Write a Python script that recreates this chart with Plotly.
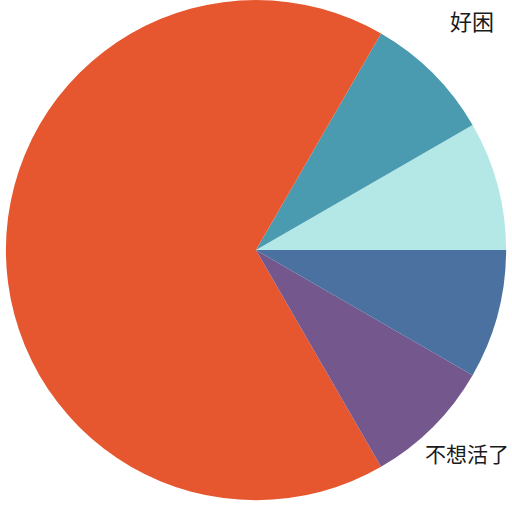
import plotly.graph_objects as go

# slices, counterclockwise from 3 o'clock
slice_names = ['浅青', '青', '橙', '紫', '蓝']
slice_values = [1, 1, 8, 1, 1]
slice_colors = ['#B3E8E6', '#4A9AB0', '#E6572F', '#74578C', '#4A71A0']

fig = go.Figure()

# counterclockwise pies end the first slice at the rotation angle, hence 60
fig.add_trace(go.Pie(
    labels=slice_names,
    values=slice_values,
    marker=dict(colors=slice_colors, line=dict(width=0)),
    sort=False,
    direction='counterclockwise',
    rotation=60,
    textinfo='none',
    showlegend=False,
    domain=dict(x=[0.01, 0.99], y=[0.023, 1.0])
))

# the two captions
fig.add_annotation(text='好困', x=472 / 512, y=1 - 20 / 512, xref='paper', yref='paper',
                   showarrow=False, xanchor='center', yanchor='middle',
                   font=dict(family='Noto Sans CJK SC', size=22, color='#1a1a1a'))
fig.add_annotation(text='不想活了', x=423 / 512, y=1 - 453 / 512, xref='paper', yref='paper',
                   showarrow=False, xanchor='left', yanchor='middle',
                   font=dict(family='Noto Sans CJK SC', size=21, color='#1a1a1a'))

fig.update_layout(
    width=512,
    height=512,
    margin=dict(l=0, r=0, t=0, b=0),
    paper_bgcolor='white',
    plot_bgcolor='white'
)

fig.write_html('out.html', config={'displayModeBar': False},
               post_script="document.body.style.margin='0';")
